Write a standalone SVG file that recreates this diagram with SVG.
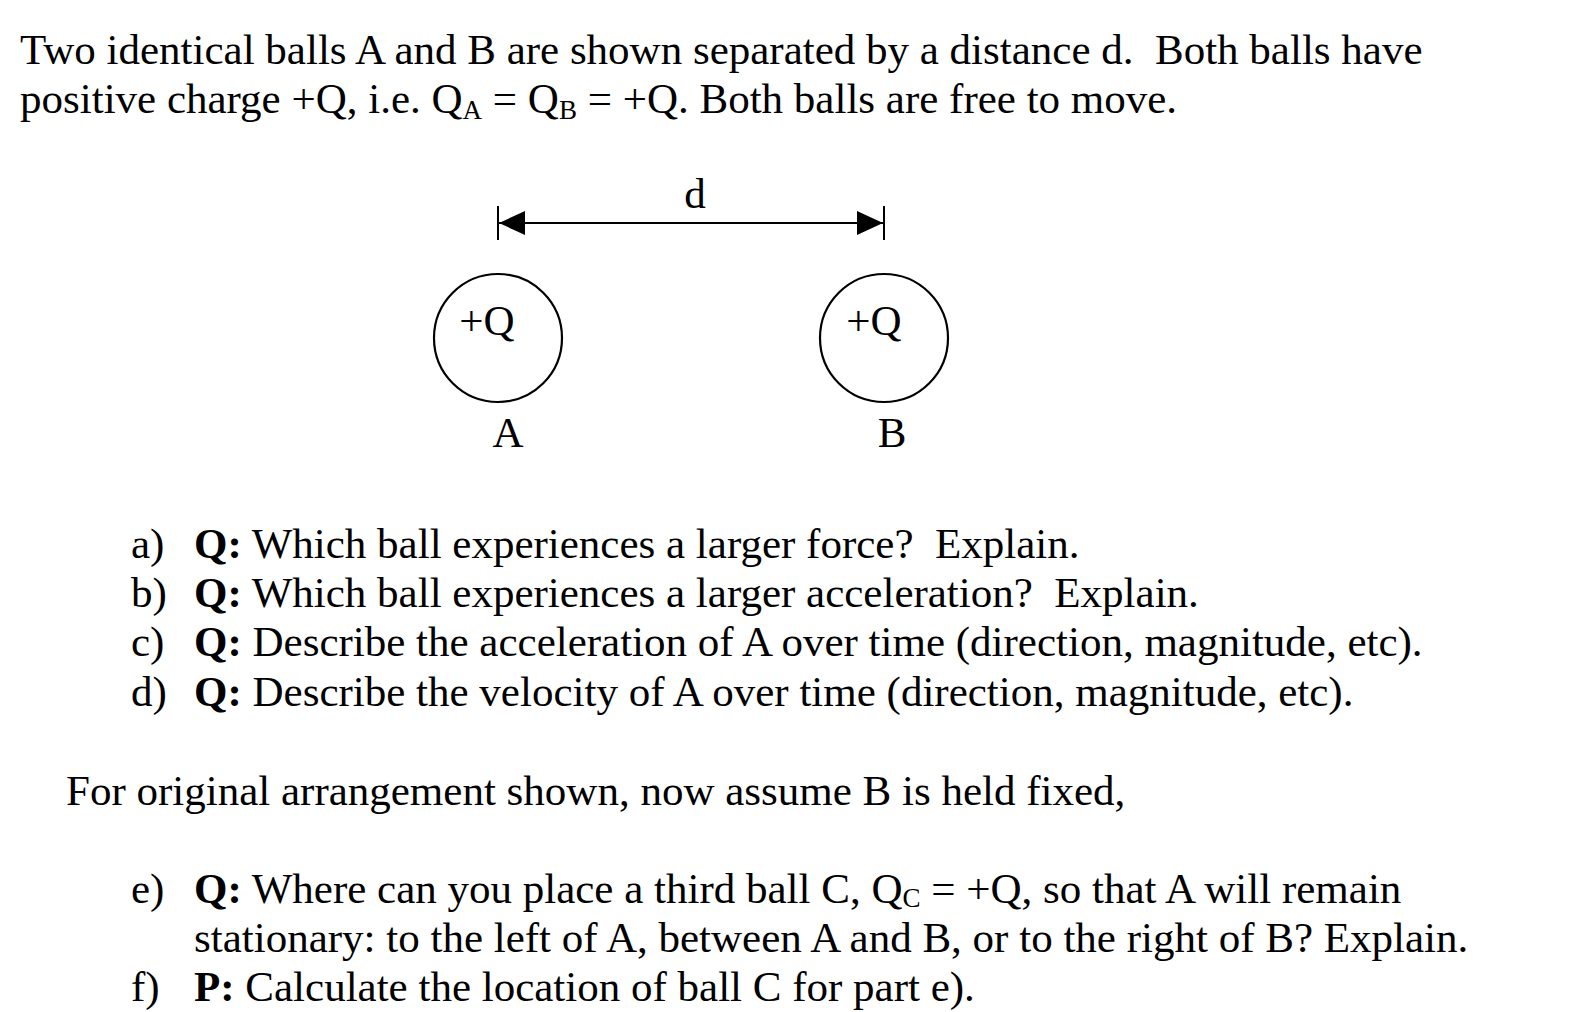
<svg xmlns="http://www.w3.org/2000/svg" width="1596" height="1012" viewBox="0 0 1596 1012">
<style>
text{font-family:"Liberation Serif","Times New Roman",serif;font-size:43px;fill:#000}
.b{font-weight:bold}
.s{font-size:27px}
.ball{fill:none;stroke:#000;stroke-width:2.2}
</style>
<defs>
<marker id="ah" markerWidth="26" markerHeight="24" refX="26" refY="12" orient="auto-start-reverse" markerUnits="userSpaceOnUse" viewBox="0 0 26 24">
<path d="M0,0 L26,12 L0,24 Z" fill="#000"/>
</marker>
</defs>
<rect width="1596" height="1012" fill="#fff"/>
<text x="20" y="64" xml:space="preserve">Two identical balls A and B are shown separated by a distance d.  Both balls have</text>
<text x="20" y="113">positive charge +Q, i.e. Q<tspan class="s" dy="6">A</tspan><tspan dy="-6"> = Q</tspan><tspan class="s" dy="6">B</tspan><tspan dy="-6"> = +Q. Both balls are free to move.</tspan></text>
<g id="connectors">
<line x1="498" y1="206" x2="498" y2="240" stroke="#000" stroke-width="2"/>
<line x1="884" y1="206" x2="884" y2="240" stroke="#000" stroke-width="2"/>
<line x1="499" y1="223" x2="883" y2="223" stroke="#000" stroke-width="2" marker-start="url(#ah)" marker-end="url(#ah)"/>
</g>
<text x="695" y="208" text-anchor="middle">d</text>
<g id="ballA">
<circle class="ball" cx="498" cy="338" r="64"/>
<text x="487" y="335" text-anchor="middle">+Q</text>
<text x="508" y="447" text-anchor="middle">A</text>
</g>
<g id="ballB">
<circle class="ball" cx="884" cy="338" r="64"/>
<text x="874" y="335" text-anchor="middle">+Q</text>
<text x="892" y="447" text-anchor="middle">B</text>
</g>
<text x="131" y="558">a)</text><text x="194" y="558" xml:space="preserve"><tspan class="b">Q:</tspan> Which ball experiences a larger force?  Explain.</text>
<text x="131" y="607">b)</text><text x="194" y="607" xml:space="preserve"><tspan class="b">Q:</tspan> Which ball experiences a larger acceleration?  Explain.</text>
<text x="131" y="656">c)</text><text x="194" y="656"><tspan class="b">Q:</tspan> Describe the acceleration of A over time (direction, magnitude, etc).</text>
<text x="131" y="706">d)</text><text x="194" y="706"><tspan class="b">Q:</tspan> Describe the velocity of A over time (direction, magnitude, etc).</text>
<text x="66" y="805">For original arrangement shown, now assume B is held fixed,</text>
<text x="131" y="903">e)</text><text x="194" y="903"><tspan class="b">Q:</tspan> Where can you place a third ball C, Q<tspan class="s" dy="4">C</tspan><tspan dy="-4"> = +Q, so that A will remain</tspan></text>
<text x="194" y="952">stationary: to the left of A, between A and B, or to the right of B? Explain.</text>
<text x="131" y="1001">f)</text><text x="194" y="1001"><tspan class="b">P:</tspan> Calculate the location of ball C for part e).</text>
</svg>
